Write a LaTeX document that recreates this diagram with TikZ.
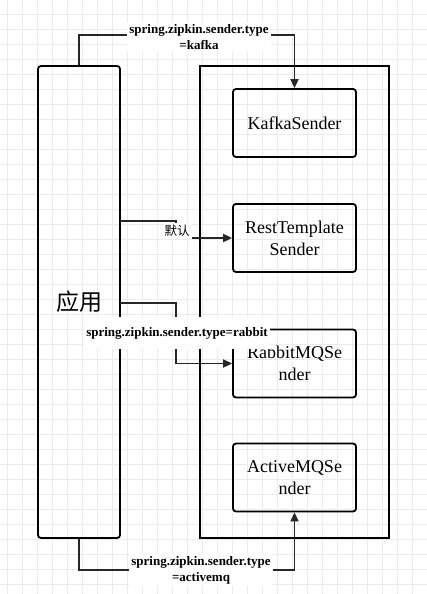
\documentclass[tikz,border=0pt]{standalone}
\usepackage{fontspec}
\setmainfont{Liberation Serif}
\newfontfamily\cjk{Noto Sans CJK SC}
\usepackage{tikz}
\usetikzlibrary{arrows.meta,positioning,calc}

\begin{document}
\begin{tikzpicture}[
  x=1pt, y=-1pt,
  gridline/.style={draw=black!8, line width=0.8pt},
  box/.style={rectangle, draw, line width=1.8pt, rounded corners=3pt, minimum width=123pt, minimum height=68pt, font=\fontsize{18}{22}\selectfont, align=center, inner sep=0pt},
  lbl/.style={fill=white, font=\bfseries\fontsize{13}{16}\selectfont, align=center, inner sep=2pt},
  arrow/.style={-{Triangle[length=9pt,width=8pt]}, line width=1.8pt, color=black!85}
]
\useasboundingbox (0,0) rectangle (427,594);

% Grid
\fill[white] (0,0) rectangle (427,594);
\foreach \gx in {7.3,22.3,...,427} \draw[gridline] (\gx,0) -- (\gx,594);
\foreach \gy in {14,29,...,594} \draw[gridline] (0,\gy) -- (427,\gy);

% Application
\node[box, minimum width=82pt, minimum height=472pt, font=\cjk\fontsize{23}{26}\selectfont] (app) at (79,302) {应用};

% Senders
\node[rectangle, draw, line width=1.8pt, minimum width=189pt, minimum height=472pt] (senders) at (294.5,302) {};
\node[box] (kafka) at (294.5,123) {KafkaSender};
\node[box] (rest) at (294.5,238) {RestTemplate\\Sender};
\node[box] (rabbit) at (294.5,363.5) {RabbitMQSe\\nder};
\node[box] (active) at (294.5,477.5) {ActiveMQSe\\nder};

% Exits
\coordinate (outdef) at (120,221);
\coordinate (outrab) at (120,303);

% Arrows
\draw[arrow] (app.north) -- ++(0,-30) -| (kafka.north);
\draw[arrow] (outdef) -- ++(56,0) |- (rest.west);
\draw[arrow] (outrab) -- ++(56,0) |- (rabbit.west);
\draw[arrow] (app.south) -- ++(0,31) -| (active.south);

% Labels
\node[lbl] (kafkalbl) at (199,37) {spring.zipkin.sender.type\\=kafka};
\node[lbl, font=\cjk\fontsize{12.5}{14}\selectfont] (deflbl) at (177,231) {默认};
\node[lbl, inner ysep=10pt, inner xsep=2pt] (rabbitlbl) at (177,333) {spring.zipkin.sender.type=rabbit};
\node[lbl] (activelbl) at (201,570) {spring.zipkin.sender.type\\=activemq};

\end{tikzpicture}
\end{document}
